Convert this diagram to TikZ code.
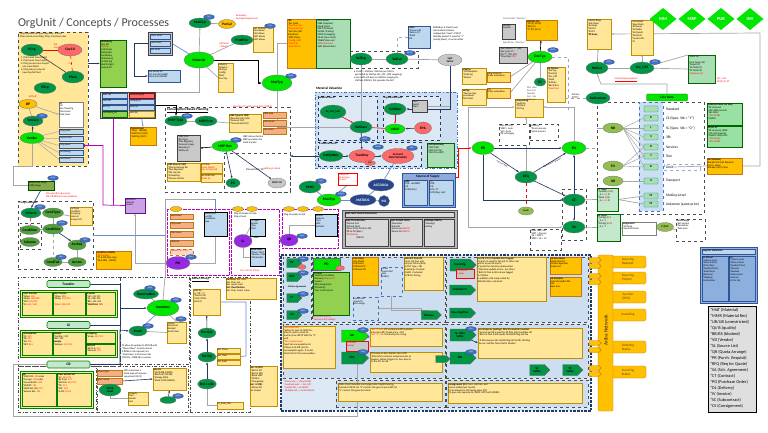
\documentclass[tikz,border=0pt]{standalone}
\usepackage{fontspec}
\setmainfont{Carlito}
\usetikzlibrary{shapes.geometric,shapes.symbols,arrows.meta}
\definecolor{yfill}{RGB}{255,230,153}
\definecolor{ybord}{RGB}{191,144,0}
\definecolor{ofill}{RGB}{255,192,0}
\definecolor{obord}{RGB}{197,120,17}
\definecolor{gfill}{RGB}{146,208,80}
\definecolor{mint}{RGB}{169,222,180}
\definecolor{bfill}{RGB}{189,215,238}
\definecolor{bbord}{RGB}{47,85,151}
\definecolor{lime}{RGB}{0,230,0}
\definecolor{dgreen}{RGB}{0,150,70}
\definecolor{mgreen}{RGB}{80,160,60}
\definecolor{olive}{RGB}{146,190,80}
\definecolor{pinkr}{RGB}{255,105,105}
\definecolor{tagb}{RGB}{68,114,196}
\definecolor{purp}{RGB}{150,40,230}
\definecolor{lpurp}{RGB}{204,160,230}
\definecolor{pblue}{RGB}{205,222,240}
\definecolor{navy}{RGB}{31,56,100}
\definecolor{navyb}{RGB}{40,70,140}
\definecolor{gfl}{RGB}{200,200,200}
\definecolor{salm}{RGB}{244,176,132}
\definecolor{magd}{RGB}{190,0,190}
\pgfdeclarelayer{panel}
\pgfdeclarelayer{conn}
\pgfsetlayers{panel,conn,main}
\newcommand\tf{\fontsize{2.5}{2.9}\selectfont}
\newcommand\tfm{\fontsize{3.4}{3.9}\selectfont}
\newcommand\tfe{\fontsize{3.6}{4}\selectfont\bfseries}
\newcommand\bx[7]{\node[#2,anchor=north west,minimum width={(#5-#3)*1pt},minimum height={(#6-#4)*1pt}] (#1) at (#3,#4) {};\node[tx,anchor=north west] (#1t) at (#3+0.6,#4+0.4) {#7};}
\newcommand\el[7]{\node[#2,minimum width=#5pt,minimum height=#6pt] (#1) at (#3,#4) {#7};}
\newcommand\tg[4]{\node[tagst] (#1) at (#2,#3) {#4};}
\begin{document}
\begin{tikzpicture}[x=1pt,y=-1pt,
 every node/.style={outer sep=0pt},
 tx/.style={font=\tf,inner sep=0pt,align=left,text=black},
 bxs/.style={rectangle,inner sep=0pt,line width=0.3pt},
 yb/.style={bxs,fill=yfill,draw=ybord},
 ob/.style={bxs,fill=ofill,draw=obord},
 gb/.style={bxs,fill=gfill,draw=green!40!black},
 mb/.style={bxs,fill=mint,draw=green!40!black},
 bb/.style={bxs,fill=bfill,draw=bbord},
 grb/.style={bxs,fill=gfl,draw=gray!50!black},
 sb/.style={bxs,fill=salm,draw=obord},
 wb/.style={bxs,fill=white,draw=gray},
 frm/.style={bxs,draw=gray!60!black,dash dot},
 dfr/.style={bxs,draw=gray!60!black,dashed},
 elb/.style={ellipse,inner sep=0pt,draw=black!55,line width=0.3pt,font=\tfe,align=center},
 ge/.style={elb,fill=dgreen},
 le/.style={elb,fill=lime},
 me/.style={elb,fill=mgreen},
 oe/.style={elb,fill=ofill},
 re/.style={elb,fill=pinkr},
 ole/.style={elb,fill=olive},
 pe/.style={elb,fill=purp},
 ne/.style={elb,fill=navyb,text=white},
 gre/.style={elb,fill=gfl,draw=gray},
 tagst/.style={ellipse,fill=tagb,draw=navy,line width=0.2pt,minimum width=11pt,minimum height=5pt,inner sep=0pt,font=\fontsize{1.8}{2}\selectfont,text=white},
 ln/.style={draw=gray!70,line width=0.7pt},
 nv/.style={draw=navy,line width=0.6pt,-{Latex[length=2.5pt,width=2pt]}},
 bl/.style={draw=tagb!80,line width=0.7pt},
 rd/.style={draw=red,line width=0.6pt},
 pl/.style={draw=magd,line width=0.7pt},
 dia/.style={diamond,fill=lime,inner sep=0pt,minimum width=27pt,minimum height=22pt,text=white,font=\fontsize{4.5}{5}\selectfont\bfseries},
 rowb/.style={bxs,fill=mint,draw=teal,rounded corners=0.5pt,minimum width=14pt,minimum height=6pt,font=\fontsize{3}{3}\selectfont\bfseries},
 lbl/.style={tx,anchor=west,font=\fontsize{3.6}{4}\selectfont},
 trb/.style={bxs,fill=mint!70,draw=green!50!black,rounded corners=1.5pt,minimum width=43pt,minimum height=7pt,font=\tfe,line width=0.6pt},
 abtn/.style={bxs,fill=ofill,draw=obord,rounded corners=1.5pt,minimum width=36pt,minimum height=12pt,font=\fontsize{3.4}{3.9}\selectfont,align=left,text=brown!50!black},
 sig/.style={signal,signal to=east,fill=ofill,draw=obord,inner sep=0pt,minimum width=12pt,minimum height=5pt},
 gsig/.style={signal,signal to=east,fill=dgreen,draw=black!60,inner sep=0pt,minimum width=15pt,minimum height=9pt,font=\fontsize{3}{3.4}\selectfont\bfseries,align=center},
 grd/.style={bxs,fill=yfill,draw=green!50!black,line width=0.8pt}
]
\useasboundingbox (0,0) rectangle (768,433);
\node[anchor=west,font=\fontsize{12}{12}\selectfont,text=black!70,inner sep=0pt] (title) at (18,23) {OrgUnit / Concepts / Processes};

% ================= PANELS =================
\begin{pgfonlayer}{panel}
\fill[white] (0,0) rectangle (768,433);
\bx{tlp}{yb,dashed,draw=gray!60!black,line width=0.5pt}{18}{32}{88}{166}{}
\bx{cbp}{dfr}{165}{107}{290}{192}{}
\bx{cbp2}{dfr}{224}{153}{290}{192}{}
\node[anchor=north west,inner sep=0pt,font=\tfm\bfseries] (mvpt) at (316,87) {Material Valuation};
\bx{mvp}{bxs,fill=pblue,draw=tagb,dash dot,line width=0.6pt}{315}{92}{457}{168}{}
\bx{vl}{dfr,draw=navy,fill=pblue!70}{318}{96}{377}{140}{\textbf{Valuation Level}}
\bx{ol}{dfr,draw=navy,fill=pblue!70}{383}{96}{440}{140}{\textbf{Organization level}}
\bx{trl}{dfr,draw=navy,fill=pblue!70}{318}{142}{421}{166}{\textbf{Transaction Level}}
\bx{vtfr}{dfr}{350}{51}{418}{68}{}
\bx{pcp}{dfr}{18}{201}{93}{269}{\textbf{Pricing Conditions}}
\bx{pcd}{dfr}{20}{223}{41}{249}{}
\bx{pirp}{bxs,draw=magd,densely dotted,line width=1pt}{167}{209}{229}{275}{}
\bx{slp}{bxs,draw=magd,densely dotted,line width=1pt}{231}{209}{279}{275}{}
\bx{qrp}{bxs,draw=magd,densely dotted,line width=1pt}{282}{209}{338}{248}{}
\bx{lifr}{dfr}{597}{102}{704}{214}{}
\bx{licol}{bb,dashed,fill=bfill!80,draw=tagb}{639}{102}{663}{211}{}
\bx{ctsa}{dfr}{562}{189}{586}{240}{}
\bx{fA}{frm}{18}{277}{120}{366}{}
\bx{fB}{frm}{120}{277}{189}{364}{}
\bx{fC}{frm}{97}{366}{188}{412}{}
\bx{fD}{frm}{190}{277}{250}{412}{}
\bx{fE}{frm}{18}{366}{96}{412}{}
\bx{bfr}{bxs,draw=navy,line width=1.2pt,dash pattern=on 2.5pt off 1.2pt,fill=pblue!70}{281}{255}{591}{411}{}
\bx{bf1}{dfr,fill=pblue}{283}{257}{311}{322}{}
\bx{bf2}{dfr,fill=pblue}{312}{257}{445}{322}{}
\bx{bf3}{dfr,fill=pblue}{446}{257}{588}{322}{}
\bx{bf4}{dfr,fill=pblue}{283}{324}{445}{378}{}
\bx{bf5}{dfr,fill=pblue}{446}{324}{588}{378}{}
\bx{bf6}{dfr,fill=pblue}{336}{380}{445}{407}{}
\bx{bf7}{dfr,fill=pblue}{446}{380}{588}{407}{}
\end{pgfonlayer}

% ================= TOP LEFT =================
\node[tx,anchor=north west] (tl1) at (20,33) {PGrp/Vendor/MM Sourcing rules: X-Plant\\PGrp can be cross-PGrg, PGrg - Purchase rules};
\el{pgrg}{ge}{32}{50}{22}{12}{PGrg}
\el{coycd}{re}{70}{50}{24}{12}{CoyCd}
\el{plant}{ge}{73}{77}{22}{12}{Plant}
\el{pgrp}{ge}{45}{88}{22}{11}{PGrp}
\el{bp}{oe}{28}{104}{18}{9}{BP}
\el{vengrp}{ge}{33}{121}{20}{10}{VenGrp}
\el{vendor}{le}{32}{138}{24}{11}{Vendor}
\tg{tvg}{42}{116}{LFA1}
\node[tx,text=red] (tlr1) at (57,46) {Std\\CoyCd};
\node[tx,text=red] (tlr2) at (70,64) {1:n};
\node[tx,text=red] (tlr3) at (33,97) {BP/SUP};
\node[tx,anchor=north west] (tl2) at (21,57) {1. Plant must have CoyCd\\2. Plant must have CoyCd\\3. PGrg can be cross-CoyCd\\\ \ \ (via cross-Plant)\\4. PGrg may or may not\\\ \ \ have CoyCd/Plant};
\bx{lb1}{wb}{59}{102}{83}{127}{BP\\VN\\Gen Tbwd Fig\\Plant Level\\PoM Level}
\bx{lb2}{bb}{59}{129}{83}{134}{Chng Level}
\bx{lb3}{bb}{59}{136}{83}{141}{CoyCd Level}
\bx{lb4}{bb}{59}{143}{83}{148}{PGrg Level}
\bx{lb5}{bb}{59}{150}{83}{155}{Purchasing}
\bx{lb6}{bb}{59}{157}{83}{162}{Plant Level}
\bx{vsr}{bxs,fill=olive!90!black,draw=green!30!black}{28}{181}{54}{190}{Vendor Sub-range\\(VSR) Usage}
\tg{tvsr}{53}{178}{LFM2}

\bx{purch}{gb}{100}{40}{126}{87}{\textbf{Purchasing}\\-Stor PO\\\textcolor{red}{-PurGrp}\\-Mat/Gross\\\ Plant(mat)\\-PurVal Key\\\ (tolerances)\\-Gr Ntk Tag\\-Batch Mgmt\\-Source list}
\bx{cl}{grb}{148}{32}{172}{55}{}
\bx{cl1}{bb}{150}{34}{170}{39}{Client Level}
\bx{cl2}{bb}{150}{41}{170}{46}{Plant Level}
\bx{cl3}{bb}{150}{48}{170}{53}{Doc Level}
\bx{docl}{bb}{148}{70}{180}{82}{Doc.Levels for\\-On 1st MV (MARC)\\-Plant-Def (MARB)}
\bx{vw}{grb,fill=gray!35}{100}{92}{155}{118}{}
\bx{vw1}{bb}{102}{93}{127}{98}{Basic (K)}
\bx{vw2}{bb}{102}{99}{127}{104}{Plant (K)}
\bx{vw3}{bb}{102}{105}{127}{110}{Stor (L)}
\bx{vw4}{gb}{102}{111}{127}{117}{Purchasing (E)}
\bx{vw5}{bxs,fill=pinkr,draw=red!60!black}{129}{93}{154}{98}{Accounting (B)}
\bx{vw6}{bb}{129}{99}{154}{104}{Costing (G)}
\bx{vw7}{bb}{129}{105}{154}{110}{Sales (V)}
\bx{vw8}{yb}{129}{111}{154}{117}{MRP (D)}
\bx{prt}{ob}{130}{127}{156}{145}{\textbf{Procurement}\\*Plant\ \ \ \ (BESKZ)\\*Add Proc (MVC)\\*Add Stg (MVC)}

\el{material}{le}{199}{60}{30}{16}{Material}
\el{matgrp}{ge}{200}{23}{22}{10}{MatGrp}
\tg{tmg}{209}{17}{T023}
\el{purcal}{oe}{227}{24}{17}{9}{PurCal}
\node[tx,text=red,anchor=west] (pcr) at (236,17) {Evaluation\\Average Requirement};
\el{prodh}{ge}{242}{40}{22}{10}{ProdHier}
\node[tx,text=red] (pdr) at (224,45) {All Plants\\/ Merch};
\bx{mgb}{yb}{253}{27}{273}{52}{Ext. MatGrp\\Mat allows\\Mat allows\\MAT allows\\MAT allows}
\tg{tmgb}{270}{26}{T134}
\bx{ind}{yb}{218}{63}{233}{92}{Industry\\\ Industry\\\ MatTyp\\\ Config\\\ Plant\\\ ProcTyp\\\ ...}
\el{mattyp}{le}{277}{83}{30}{16}{MatTyp}
\tg{tmt}{291}{76}{MTART}
\bx{mtb}{ob}{287}{19}{316}{68}{\textbf{*BP}\\*Ext. Field\\\textcolor{red}{*Prod Typ Grp}\\\textcolor{red}{*Procurem Typ}\\*Val Class (Val.\\\ Valuation)\\*MRP Views\\\textcolor{red}{*Config. MAT}\\\textcolor{red}{*Price Ctrl}\\\textcolor{red}{*Acct Cat Lvl}}
\bx{mtg}{mb}{316}{19}{350}{68}{*ROH (Raw)\\*HIBE (Supplies)\\*HALB (Semi)\\*FERT (Finished)\\*HAWA (Trading)\\*VERP (Packaging)\\*NLAG (Non-stock)\\*UNBW (Non-val)\\\textcolor{red}{*DIEN (Services)}\\*LEIH (Returnable)}

% ================= VALUATION =================
\el{valtyp}{ge}{361}{59}{22}{12}{ValTyp}
\el{valcat}{ge}{397}{59}{22}{12}{ValCat}
\tg{tvc}{410}{53}{BWTTY}
\el{splitv}{gre}{450}{60}{24}{12}{\fontsize{2.6}{3}\selectfont Split\\[-0.5pt]\fontsize{2.6}{3}\selectfont ValCat}
\bx{flds}{bb}{408}{26}{430}{48}{\textbf{Fields}\\*Procure (B)\\*Extern (F)\\*Stock\\\ Val.}
\node[tx,anchor=north west] (defcl) at (433,27) {Definition at Client Level\\(intransitive) ValArea\\configurable "level" of MAT\\Globally protect it must be "Y"\\(mostly plant), it can be either};
\node[tx,anchor=north west] (vtxt) at (354,71) {\textbullet\ 1 MAT: 1 ValClass: ValClass per MAT is\\\ \ permitted by MatTyp [AC\_CAT\_MAT mapping]\\\textbullet\ non-MAT will base on ValClass mapping to\\\ \ ValClass (OMSK), this provides the ACC};
\el{accat}{ge}{333}{112}{26}{14}{\fontsize{2.6}{3}\selectfont AC\_CAT\_MAT}
\el{valcls}{ge}{361}{127}{22}{12}{ValClass}
\tg{tvcl}{365}{139}{BKLAS}
\el{valar}{ge}{395}{109}{22}{12}{ValArea}
\bx{vag}{grb}{412}{100}{427}{112}{Plant\\CoyCd\\Plant}
\el{valar2}{le}{395}{129}{20}{10}{ValLvl}
\el{eml}{re}{423}{128}{17}{12}{EML}
\el{catsk}{ge}{331}{156}{24}{11}{CatSysKey}
\el{trk}{re}{362}{156}{26}{13}{Transkey}
\el{trk2}{re}{370}{163}{11}{5}{\fontsize{2}{2}\selectfont BSX}
\el{accd}{re}{398}{156}{32}{15}{\fontsize{3}{3.4}\selectfont Account\\[-1pt]\fontsize{3}{3.4}\selectfont Determination}
\tg{tacd}{412}{148}{OBYC}
\tg{ttk}{378}{147}{OMWB}
\bx{mvg}{mb}{427}{143}{454}{167}{\textbf{MM (inventory)}\\*MM (MB)\\*MM (MM IV)\\*MM (Fine BPP)}
\node[tx,text=red] (sis) at (272,169) {Settings in Stock};
\bx{rbx}{bxs,draw=red,line width=0.6pt,fill=white}{338}{173}{357}{185}{\textcolor{red}{ValuatnLvl}\\\textcolor{red}{Mvmt type}\\\textcolor{red}{GL Acct}}
\el{mvo}{ge}{310}{187}{22}{12}{MVO}
\tg{tmvo}{321}{181}{T156}
\el{mtyp2}{le}{329}{200}{24}{12}{MovTyp}
\tg{tmt2}{341}{194}{BWART}
\el{accdoc}{ne}{381}{185}{26}{12}{ACCDOCA}
\el{matdoc}{ne}{363}{200}{26}{11}{MATDOC}
\el{mlx}{ne}{384}{201}{11}{11}{ML}

\bx{sos}{bb,line width=0.8pt,fill=tagb!60}{402}{173}{455}{207}{}
\node[tx,font=\tfm\bfseries] (sost) at (428,176.5) {Source of Supply};
\bx{sos1}{bb}{404}{180}{427}{205}{\textbf{MRP}\\1.QR\ \ +SL(MRP)\\2.SL\\3.PIR(Main)}
\bx{sos2}{bb}{429}{180}{453}{205}{\textcolor{red}{\textbf{PO}}\\1.QR\\2.SL\\3.OA, CT\\4.PIR (Reg. Ind)}
\bx{ulc}{grb,fill=gray!55,draw=gray!70!black,line width=0.6pt}{342}{210}{457}{248}{}
\bx{ulct}{grb,fill=gray!30}{345}{212}{454}{217}{\textbf{User Level Control Parameters}}
\bx{ulc1}{grb,fill=gray!30}{345}{219}{388}{246}{\textbf{User PO Level (ME)}\\*Default Acct\\*Default Plant\\*Pernr PR to PO (Scrn PR)\\*PR to PO (Spec)\\\textcolor{red}{*PO Release}\\\ \ \ \ \ \ \ \ \ \ \ \ \ \ \ \ \ \ \ (ME23)}
\bx{ulc2}{grb,fill=gray!30}{390}{219}{422}{246}{\textbf{User Default (SU3)}\\*Parameter\\*Defaults\\*Access Lvl \textcolor{red}{(ME21)}\\*Param list \textcolor{red}{(ME51)}}
\bx{ulc3}{grb,fill=gray!30}{424}{219}{454}{246}{\textbf{Message (MESS)}\\*Message\\\ setting}

% ================= MRP =================
\node[tx,font=\tfm\bfseries,anchor=north west] (cbpt) at (167,108) {\underline{Consumption-Based Planning}};
\node[tx,text=red,anchor=north west] (cbpr) at (233,106) {Reorder pt / Safety Stock (Not: MRP II)};
\el{mrpt}{ge}{176}{121}{22}{10}{MRP Type}
\tg{tmrpt}{187}{116}{DISMM}
\el{mrpp}{ge}{206}{121}{22}{10}{MRP Proc}
\bx{mrpy}{yb}{229}{114}{261}{132}{\textbf{MRP Type for MRP}\\*Reorder Point (VB)\\*Forecast (VV)\\*Time-phased (R1)}
\bx{mra1}{sb}{263}{112}{286}{118}{MRP area}
\bx{mra2}{sb}{263}{120}{286}{126}{Plant Level}
\bx{mra3}{sb}{263}{128}{286}{134}{Stor Level}
\bx{mrg}{grb}{177}{135}{200}{161}{*MRP Proc\\*Sim Type\\*Plan Regularly\\*Forecast Usage\\*Reorder pt\\*Safety stk}
\el{mrpr}{le}{225}{146}{26}{11}{MRP Run}
\tg{tmrpr}{236}{140}{MD01}
\node[tx,anchor=north west] (mrpn) at (243,136) {MRP allows check \&\\MRP procedure for\\stock transfer};
\bx{mry1}{yb}{167}{163}{200}{181}{\textbf{MRP Run for MRP}\\*Check planning file\\*Plan Regularly\\*Net req calc\\*Scheduling\\*Procure details}
\bx{mry2}{yb}{201}{163}{222}{173}{Lot Size:\\\textcolor{red}{ex.lot (Static)}\\\textcolor{red}{Per. lot (Period)}}
\bx{mry3}{yb}{201}{174}{222}{182}{No order Ind.\\\textcolor{red}{Order pt ..}}
\el{pgx}{ge}{233}{183}{14}{9}{PG}
\el{mrpc}{gre}{277}{183}{18}{10}{\fontsize{2.5}{3}\selectfont MRP Cntl}
\node[tx] (pon) at (255,170) {Planned Ord / PO};

% ================= PRICING =================
\node[tx,text=red,anchor=west] (pcr1) at (46,195) {PO uses MM value price\\PIR, PB/RFQ/SA use conditions};
\el{pc1}{ge}{31}{213}{20}{10}{PrCond}
\tg{tpc1}{40}{207}{KONV}
\el{pc2}{me}{53}{213}{20}{10}{CondType}
\bx{pcy}{yb}{70}{207}{92}{225}{Cal Type\\Condition\\Grouping\\Interval\\Group (GT)}
\el{pc3}{me}{30}{230}{19}{9}{Condition}
\el{pc4}{me}{30}{242}{19}{9}{Scheme}
\el{pc5}{me}{53}{229}{20}{10}{Condition}
\tg{tpc5}{62}{223}{KALSM}
\el{pc6}{me}{77}{245}{18}{10}{AccSeq}
\tg{tpc6}{85}{240}{T682}
\el{pc7}{me}{53}{262}{18}{9}{CondTab}
\tg{tpc7}{61}{257}{T681}
\el{pc8}{me}{77}{262}{18}{9}{Access}
\bx{cvl}{ob}{96}{251}{131}{269}{\textbf{Condition Validity}\\\textcolor{red}{*PO is today}\\*CT \& PIR time step\\*SA \& RFQ - (SPRO)}
\bx{rmv}{bxs,fill=lpurp,draw=purp!60!black,line width=0.6pt}{125}{198}{145}{213}{Reference\\Material\\Vendor}

% ================= PIR / SL / QR =================
\el{pio1}{oe}{176}{209}{12}{5}{}
\bx{pb1}{sb}{170}{214}{193}{219}{Vend Level}
\bx{pb2}{sb}{170}{222}{193}{228}{Plng Level}
\bx{pb3}{sb}{170}{231}{193}{237}{Plant Level}
\bx{pb4}{sb}{170}{240}{193}{246}{Material}
\bx{pb5}{bxs,fill=salm!50,draw=obord,dashed}{170}{249}{193}{255}{\textcolor{red}{Vendor Cat. / PO}}
\el{pir}{pe}{178}{263}{24}{13}{PIR}
\tg{tpir}{191}{257}{EINA}
\bx{pirb}{bb,line width=0.8pt,draw=black}{204}{212}{227}{236}{Delivery Dt\\Last PO\\Conditions\\Type}
\el{slo1}{oe}{238}{209}{11}{5}{}
\el{slo2}{oe}{252}{209}{11}{5}{}
\node[tx,anchor=north west] (slt) at (234,213) {Plng at Vendor Lvl Sub\\Plng at level};
\el{sl}{pe}{243}{241}{18}{13}{SL}
\tg{tsl}{256}{235}{EORD}
\bx{slb1}{bb,line width=0.8pt,draw=black}{250}{219}{265}{236}{Fix Type\\Vendor\\PGrp\\Plant}
\bx{slb2}{bb,line width=0.8pt,draw=black}{250}{248}{265}{266}{\textbf{Block Level}\\*Plant / MAT\\*Vendor / MAT\\*Obj Vendor}
\node[tx,text=red] (slr) at (250,271) {Yes / SL Ctrl (Plant)};
\el{qro1}{oe}{289}{209}{11}{5}{}
\el{qro2}{oe}{303}{209}{11}{5}{}
\el{qro3}{oe}{318}{209}{11}{5}{}
\node[tx,anchor=north west] (qrt) at (284,214) {Plng at vendor-lvl QA};
\bx{qrb}{bb,line width=0.8pt,draw=black}{315}{214}{337}{236}{Vendor\\Material\\Plant\\MRP\\Rel.Date}
\el{qr}{pe}{289}{240}{18}{12}{QR}
\tg{tqr}{302}{236}{EQUK}

% ================= PROCESS =================
\el{pr}{le}{483}{148}{22}{13}{PR}
\el{po}{le}{574}{148}{24}{13}{PO}
\el{rfq}{ge}{526}{177}{22}{12}{RFQ}
\el{ct}{ge}{574}{200}{22}{12}{CT}
\el{sa}{ge}{574}{227}{22}{12}{SA}
\el{lmt}{ole}{526}{211}{15}{8}{\fontsize{2.5}{3}\selectfont Contr}
\bx{iuf}{yb}{515}{99}{543}{117}{\textbf{InfoUpdFlag}\\*Upd Info\\*GR Plant\\*GI Plng}
\bx{ap}{dfr,fill=white}{499}{124}{529}{145}{Auto PO (PR)\\*MRP = Auto\\*VD = Auto\\*PR ref Supply}
\bx{act}{dfr,fill=white}{530}{124}{558}{140}{(Activity)\\*Direct procure\\*Stock procure}
\bx{omr}{dfr,fill=white}{530}{229}{561}{250}{Order MRP Ind\\*MAT = Procure\\*NL = MRP 2\\*MRP = NL = 23}
\node[tx,rotate=-28,font=\fontsize{2.2}{2.5}\selectfont] (lcp) at (502,164) {Copy for RFQ};
\node[tx,rotate=25,font=\fontsize{2.2}{2.5}\selectfont] (lqs) at (552,163) {Quotation/PO Submit};

\el{doctyp}{le}{540}{57}{24}{12}{DocTyp}
\tg{tdt}{553}{50}{BSART}
\el{pcx}{ge}{540}{82}{12}{8}{PC}
\bx{mmdc}{ob}{526}{20}{557}{40}{\textbf{MM Doc Cat}\\*PO (F), PR (B)\\*RFQ (A)\\*CT (K), SA (L)}
\bx{prp}{yb}{547}{67}{565}{102}{\textbf{PR Pattern}\\*DocTyp\\*ItemCat\\*Acc\_CAT\\*Stock\\*Activity\\*Rel Status\\\textcolor{red}{*Fixed Vnd}}
\node[tx,anchor=north west,text=gray!60!black] (dtl) at (527,87) {Dist. plan\\Item Cat\\Number\\Acct. Ass\\Referenc};
\bx{cfg1}{ob,fill=ofill!60}{487}{72}{510}{82}{Mng Contract\\Order evaluation}
\bx{cfg2}{ob,fill=ofill!60}{487}{88}{510}{98}{Cnt\\Order evaluation}
\bx{mng}{yb}{462}{68}{486}{84}{\textbf{MngTyp}\\*Consumption\\*Ordering\\*Partner}
\bx{vtb}{yb}{462}{89}{486}{105}{\textbf{ValTyp}\\*Tax rule (tax.\\\ procedure)\\Plant tasks}
\bx{yps}{grb}{502}{24}{515}{39}{YPS Key\\Purpose}
\node[tx,text=gray!60!black,anchor=north west] (ypt) at (503,18) {Contract for "Purchas"};
\node[tx,text=gray!60!black,anchor=north west] (ypt2) at (503,42) {Specific for "Purchas"};
\bx{ypg}{grb}{499}{47}{527}{63}{*Doc Pattern "T" (PR)\\*Doc Level \textcolor{red}{PR}\\*PO "T" (PO, PO)\\*Time Step \textcolor{red}{(PO)}}
\el{itc}{ge}{597}{68}{22}{12}{ItmCat}
\tg{titc}{609}{62}{PSTYP}
\el{acc}{ge}{642}{68}{24}{12}{Acc\_CAT}
\tg{tacc}{655}{62}{KNTTP}
\el{refr}{ge}{598}{98}{24}{12}{Referencer}
\node[tx] (enh) at (576,96) {Enhanc.\\{}(PTYP)};
\bx{itb}{yb}{587}{19}{611}{49}{*NAChr Requ\\*AAC Requ\\*AA Reqs\\*GR Ctrl\\*IR Ctrl\\\textbf{*PR Requ}}
\bx{acb}{yb}{631}{20}{653}{55}{*Consumpt\\*Spec Stock\\*AA Invoic\\*AA Delivr\\*AA Goods\\*Partial IV\\*Control GR\\*CL}
\bx{acg}{mb}{688}{55}{715}{83}{*Asset (A)\\\\*Cost Center (K)\\*Project (P)\\*Sls Order (C)\\*PP Order (F)\\\textcolor{red}{*Unknown (U)}}
\node[tx,text=red,anchor=west] (acr) at (717,80) {(K) => PR,\\PR (K) (C) ET};
\node[tx,text=red] (cdt) at (626,80) {\underline{Control Determination}};

% diamonds
\node[dia] (dmm) at (663,19) {MM};
\node[dia] (dmrp) at (692,19) {MRP};
\node[dia] (dpur) at (721,19) {PUR};
\node[dia] (dinv) at (750,19) {INV};

% line items
\node[bxs,fill=lime,draw=green!40!black,rounded corners=1pt,minimum width=41pt,minimum height=7pt,font=\tfm\bfseries] (li) at (667,97.5) {Line Item};
\node[rowb] (r0) at (651,109) {};
\node[rowb] (r1) at (651,118) {K};
\node[rowb] (r2) at (651,128) {L};
\node[rowb] (r3) at (651,137) {S};
\node[rowb] (r4) at (651,147) {D};
\node[rowb] (r5) at (651,156) {T};
\node[rowb] (r6) at (651,167) {B};
\node[rowb] (r7) at (651,181) {U};
\node[rowb] (r8) at (651,196) {M};
\node[rowb] (r9) at (651,204) {M};
\node[lbl] (l0) at (666,109) {Standard};
\node[lbl] (l1) at (666,118) {CS (Spec. Stk = "Y")};
\node[lbl] (l2) at (666,128) {SC (Spec. Stk = "O")};
\node[lbl] (l3) at (666,137) {3PL};
\node[lbl] (l4) at (666,147) {Services};
\node[lbl] (l5) at (666,156) {Text};
\node[lbl] (l6) at (666,167) {Limit};
\node[lbl] (l7) at (666,181) {Transport};
\node[lbl] (l8) at (666,196) {MatGrp Level};
\node[lbl] (l9) at (666,204) {Unknown (same price)};
\node[bxs,draw=tagb!60,dashed,minimum width=36pt,minimum height=6pt] (lhl) at (682,167) {};
\el{nb}{ole}{613}{128}{20}{10}{NB}
\el{fo}{ole}{613}{166}{20}{10}{FO}
\el{ub}{ole}{613}{181}{20}{10}{UB}
\bx{ctt}{mb,fill=mint!70}{597}{188}{618}{211}{\textbf{CT Types}\\*Quantity (\textcolor{red}{MK})\\\ \_ K, L, \textcolor{red}{M}, D\\*Value (\textcolor{red}{WK})\\\ \_ K, \textcolor{red}{L, M}, D}
\bx{sat}{mb,fill=mint!70}{597}{214}{620}{241}{\textbf{SA Types}\\*Sch Agt (\textcolor{red}{LP})\\\ \_ K, L, T\\*Sch Agt (\textcolor{red}{LPA})\\\ \_ K, L, T}
\bx{asg}{wb}{622}{222}{656}{235}{\textbf{Assignment}\\*GR Rptg -\\*General Sched}
\el{clp}{ole}{665}{227}{17}{9}{\fontsize{2.6}{3}\selectfont Cl Prof}
\bx{rst}{dfr,fill=white}{676}{219}{705}{241}{\textbf{Rel Strategy}\\*Rel Version\\*Periodicity\\*Tolerance}
\bx{rg1}{mb,fill=mint!90!green}{707}{103}{742}{125}{\textbf{Standard items (no text)}\\*PR (manual)\\*LDR: SBG (search)\\*LBI: 0024\\\textcolor{red}{\ \ *0D, S0 ERI}\\*GA0D1}
\bx{rg2}{mb,fill=mint!90!green}{707}{126}{742}{147}{\textbf{SE (scr IF)}\\*PR (manual), 0000\\*LTP: SAG (search)\\*GA0D9: 0021+0D1\\\textcolor{red}{\ \ *SCA Sched}\\\textcolor{red}{\ \ *0D, S0 ERI}}
\bx{rg3}{ob}{707}{158}{742}{174}{\textbf{Ref (Blanket)}\\Blanket Ord (Ltd, Blanket)\\Limit = Value\\Blanket (MM), Pleet}

% supplier evaluation & legend
\bx{sev}{bb,line width=0.8pt,fill=tagb!55}{700}{247}{757}{303}{}
\bx{sevt}{bb}{702}{249}{755}{254}{\textbf{Supplier Evaluation}}
\bx{sev1}{bb,fill=bfill!60!tagb}{702}{256}{728}{301}{\textbf{EL: Actual}\\*Criteria Level\\*Main criteria\\\ (Price/Qty)\\*Quality (Price)\\*Subcriteria\\\ (Delivery)\\*Shipping\\\ Instructions}
\bx{sev2}{bb,fill=bfill!60!tagb}{729}{256}{755}{301}{\textbf{LIS}\\*Criteria Level\\*Main criteria\\*Quality (Price)\\*Services\\*Evaluate\\*Extend pass\\\ read run\\\ in this tab}
\node[bxs,fill=gray!25,draw=black,line width=0.8pt,minimum width=48pt,minimum height=106pt,anchor=north west] (leg) at (708,306) {};
\node[anchor=north west,font=\fontsize{4.3}{6.05}\selectfont,inner sep=0pt,align=left] (legt) at (710,308) {*MAT (Material)\\*MMR (Material Rec)\\*UR/UB (unrestricted)\\*QI/IS (quality)\\*BB/BS (blocked)\\*VD (Vendor)\\*SL (Source List)\\*QR (Quota Arrange)\\*PR (Purch. Requisit)\\*RFQ (Req for Quote)\\*SA (Sch. Agreement)\\*CT (Contract)\\*PO (Purchase Order)\\*DL (Delivery)\\*IV (Invoice)\\*SC (Subcontract)\\*CS (Consignment)};

% Ariba
\node[abtn] (ab1) at (628,262) {Sourcing\\Request};
\node[abtn] (ab2) at (628,278) {Sourcing\\Project};
\node[abtn] (ab3) at (628,297) {Auction\\(RFX)};
\node[abtn] (ab4) at (628,315) {Awarding};
\node[abtn] (ab5) at (628,347) {Ordering\\Status};
\node[abtn] (ab6) at (628,372) {Invoicing\\Status};
\node[bxs,fill=ofill,draw=obord,rounded corners=1pt,minimum width=15pt,minimum height=156pt] (ariba) at (605.5,333) {};
\node[rotate=90,font=\fontsize{5}{5}\selectfont\bfseries,text=brown!50!black,inner sep=0pt] (aribt) at (606,330) {Ariba Network};
\node[sig] (sg1) at (594,260) {};
\node[sig] (sg2) at (594,266) {};
\node[sig] (sg3) at (594,276) {};
\node[sig] (sg4) at (594,282) {};
\node[sig] (sg5) at (594,343) {};
\node[sig] (sg6) at (594,350) {};
\node[sig] (sg7) at (594,368) {};
\node[sig] (sg8) at (594,374) {};

% ================= BIG FRAME CONTENTS =================
\node[gsig] (bpr) at (292,263) {PR};
\el{bprr}{re}{302}{267}{8}{5}{}
\node[gsig] (brfq) at (292,277) {RFQ};
\node[tx,font=\fontsize{2.3}{2.6}\selectfont\bfseries] (boa) at (297,287) {Outline Agreement};
\node[gsig] (bct) at (292,298) {CT};
\node[gsig] (bsa) at (292,315) {SA};
\tg{tbpr}{303}{259}{EBAN}
\tg{tbrfq}{303}{273}{EKKO}
\tg{tbct}{303}{294}{EKKO}
\tg{tbsa}{303}{311}{EKKO}
\node[bxs,fill=lime,draw=black!60,minimum width=27pt,minimum height=12pt,font=\tfe] (bpo) at (326.5,264) {PO};
\el{bpor}{re}{340}{268}{9}{5}{}
\bx{bpoi}{gb}{313}{272}{349}{315}{\textbf{PO Item}\\*Material, Condition\\*Delivery \textcolor{red}{(Ship conf)}\\*Invoice\\*PAG Assignment\\*PO History\\*Text, Conf Control}
\node[tx,text=red,anchor=north west] (bpor2) at (313,316) {Early Rel/Confirm\\*Technical PO Settings};
\bx{bprc}{ob}{352}{257}{378}{285}{\textbf{Price Deter}\\1.Fix (fixed)\\2.PIR Cond\\3.PIR last PO\\4.Manual PO}
\bx{bau}{yb}{404}{257}{443}{290}{\textbf{Auto PO from GR}\\Cond. GR (Inv) and\\only for GR/Inv (ERS)\\1.PO/T type = NB\\2.AutoTyp: Created\\3.BAPI = Included\\4.PIR for Pricing}
\bx{bblu}{bxs,draw=tagb,dashed,fill=pblue}{381}{267}{402}{296}{Inv list\\Invoice Ref\\data\\(MIRO)}
\bx{bblu2}{bxs,draw=tagb,dashed,fill=pblue}{353}{297}{378}{320}{Invoice Ref\\Open PO\\Acct Assign.}
\node[gsig,minimum width=20pt] (brel) at (429,315) {Release};
\node[gsig,minimum width=26pt,minimum height=12pt] (biv) at (460,265) {Invoicing};
\bx{bivr}{bxs,fill=gfl,draw=red}{456}{269}{474}{278}{\textcolor{red}{Or Recycle}\\\textcolor{red}{In Appr}}
\node[gsig,minimum width=26pt,minimum height=10pt] (bod) at (460,290) {Ordered/IV};
\node[gsig,minimum width=26pt,minimum height=10pt] (bsp) at (460,313) {Sourcing Plan};
\bx{by1}{yb}{477}{257}{546}{301}{\textbf{For PR, PO, IV Flexible Item Tagged:}\\PO item to used for GR and IV, other rule\\will be as per GR and IV\\IV push from function ready-noted\\*Tolerance update at mm. (ex: flow)\\*Both IV Plan \& GR rule are tagged\\\ in POitem.\\In addition, ESS ready-noted for\\\ ERS (Vendor), only Ecalc}
\bx{bo1}{ob}{550}{257}{581}{274}{\textbf{SA Item Index}\\Single Item for\\Process Approval\\Inside List}
\bx{bo2}{ob}{550}{277}{581}{296}{\textbf{SA Analytics}\\Smart Analytics PM\\Std.\\New Ana.}
\bx{bsm}{yb}{283}{326}{335}{368}{\textcolor{red}{*For stock mat:}\\*before IV, post to GR/IR GL;\\\ after IV, post to stock GL\\\ and/or price diff (if MAP for "S"\\\ prd)\\\textcolor{red}{*For nonstock mat:}\\*post into consumption GL\\\ If there is IV diff, post to\\\ consumption again. If no GR,\\\ direct full IV into consumption.}
\node[tx,text=red,anchor=north west] (bsmr) at (284,381) {*Stock mat. -> Only Val.GR\\*nonStock mat. -> AA, CAT\\*nonVal GR -> no GR/IR\\*Multiple AA -> nonVal GR ref};
\node[gsig,fill=lime,minimum width=27pt,minimum height=12pt] (bgr) at (352,336) {GR};
\bx{bgrr}{bxs,fill=gfl,draw=red}{346}{341}{368}{351}{\textcolor{red}{Or Goods}\\\textcolor{red}{Receipt}}
\node[gsig,minimum width=27pt,minimum height=12pt] (biws) at (352,358) {IWS};
\tg{tbgr}{363}{330}{MKPF}
\tg{tbiws}{363}{352}{ESSR}
\bx{bs1}{yb}{370}{328}{442}{346}{\textcolor{red}{*For "S" ctrl}: PO vs GR price diff is posted\\\ into price diff. Goods price = Std.\\\textcolor{red}{*For "V" ctrl}: the Stock price is Avg.}
\bx{bs2}{yb}{370}{352}{442}{372}{PO's base on Serv Master (Serv GIP)\\*After SES is entered, acceptance has to\\\ happen, before triggers Gr. Serv Spec in\\\ to the PO, for GR.}
\node[gsig,minimum width=14pt,minimum height=7pt] (bsar) at (441,359) {};
\node[gsig,minimum width=26pt,minimum height=12pt] (bspl) at (460,335) {Sr. Plan\\Settle};
\node[gsig,minimum width=26pt,minimum height=12pt] (bses) at (460,358) {SES};
\tg{tbspl}{471}{329}{ESLH}
\tg{tbses}{471}{352}{ESSR}
\bx{by2}{yb}{478}{328}{582}{358}{\textbf{For Scopes or postings: SES/IVs auto ES/ Invoices}\\*Service Val GR is used for SP Plan, ESS mandates GR\\*Both IV Plan \& ESS needs GR Del/ID flag and Tax\\\\*IF ESS requires GR, Del/ID flag (def in PR), ESS flag\\\ be set; and Pay Term (def in Vendor)}
\node[gsig,minimum width=20pt,minimum height=11pt] (bsc1) at (537,370) {SC\\Settle};
\node[gsig,minimum width=20pt,minimum height=11pt] (bsc2) at (570,370) {SC\\Settle};
\bx{by3}{yb}{338}{383}{442}{401}{While (Cost) Receipts are charged into Freight clearing.\\Instead of GR/IR, for "S" control, this goes to price diff; for\\"V" control, this goes into stock.}
\bx{by4}{yb}{448}{383}{582}{403}{\textbf{Consignment (IG)}: Cons. mat liab. and\\can be settled (per CoyCd)\\(1) be allowed in PO having value (PO)\\(2) goes into separate GL (OBYC, GPP) with (DKRG)}

% ================= LOWER LEFT =================
\node[trb] (transfer) at (68.5,284) {Transfer};
\node[trb] (gi) at (68.5,325) {GI};
\node[trb] (gr) at (68.5,364.5) {GR};
\bx{tg0}{grd}{20}{290}{117}{317}{}
\bx{tg1}{yb,draw=green!50!black}{22}{292}{52}{315}{\textbf{Plant Transfer}\\*1Step: \textcolor{red}{301}\\*2Step: \textcolor{red}{303/305}\\*STO: \textcolor{red}{351/101}\\*GI: \textcolor{red}{641 / 643}}
\bx{tg2}{yb,draw=green!50!black}{53}{292}{85}{315}{\textbf{Stor Transfer}\\*1Step: 311\\*2Step: \textcolor{red}{313/315}\\\\\textcolor{red}{*Stock: 309/411}}
\bx{tg3}{yb,draw=green!50!black}{86}{292}{115}{315}{\textbf{Transfer}\\*UR-> QI: 321\\*QI-> BB: 349\\*BB-> UR: 343\\\textbf{*Mat2Mat: \textcolor{red}{309}}}
\bx{gg0}{grd}{20}{330}{117}{357}{}
\bx{gg1}{yb,draw=green!50!black}{22}{332}{52}{355}{\textbf{Consumption}\\*CC: \textcolor{red}{201}\\*PR: \textcolor{red}{221}\\*SO: \textcolor{red}{231}\\*NET: \textcolor{red}{261}}
\bx{gg2}{yb,draw=green!50!black}{53}{332}{85}{355}{\textbf{Sample}\\*Confirm: 333\\*Ret: 333\\\textbf{Sample}\\*Sample: \textcolor{red}{333/1/5}}
\bx{gg3}{yb,draw=green!50!black}{86}{332}{115}{343}{\textbf{Scrapping}\\*Scrap: \textcolor{red}{551/3/5}}
\bx{gg4}{yb,draw=green!50!black}{86}{344}{115}{355}{\textbf{Reversal}\\*Sh/LS 6: \textcolor{red}{451}\\*Manual: \textcolor{red}{122}}
\bx{rg0}{grd}{20}{371}{93}{408}{}
\bx{rgc1}{yb,draw=green!50!black}{22}{373}{56}{406}{\textbf{GR}\\*MIGO PO: \textcolor{red}{101} order\\*Consign: \textcolor{red}{101} order\\*Consol Batch: \textcolor{red}{103}\\*GR/RET: \textcolor{red}{124}\\*NSGR Ret (W): \textcolor{red}{107}\\*Subcon Ret: \textcolor{red}{105}}
\bx{rgc2}{yb,draw=green!50!black}{57}{373}{91}{406}{\textbf{Movt wo.Doc ref}\\*Ini: \textcolor{red}{561/3/5}\\*By Prod: \textcolor{red}{531}\\*Ak/Ortl: \textcolor{red}{521/3/5}\\*Tfr: \textcolor{red}{511}\\*Mfr: \textcolor{red}{501}\\*A-GR: \textcolor{red}{701/2}}
\el{resv}{ge}{146}{294}{22}{10}{Reservation}
\tg{tresv}{150}{288}{RESB}
\el{inv}{le}{163}{308}{32}{16}{Inventory}
\tg{tinv}{176}{300}{MARD}
\el{stk}{ge}{138}{331}{18}{10}{Stock}
\tg{tstk}{148}{326}{MSEG}
\bx{sty}{yb}{167}{322}{186}{343}{Unrest.\\Restricted\\Blocked\\Stock Movt}
\tg{tsty}{181}{319}{MKOL}
\node[tx,anchor=north west] (invn) at (122,345) {To allow GI updates to PR/MR with\\"Move Allow" to stock record\\If RESB is not required, set\\"Final Issue" in the resvn doc\\(FIX Qty = RESB Qty, reserve)};
\bx{mvt}{sb}{97}{370}{122}{376}{Mvmt Type}
\bx{sps}{sb}{97}{378}{122}{384}{Spec. Stock}
\node[tx,anchor=north west] (mvtn) at (124,370) {Whs view have a\\stock type will assume\\movement (SE11)};
\bx{stby}{yb}{153}{368}{186}{390}{\textbf{Bin/etc}\\*UR/IS/BB (MARD)\\*Batch/SP (MCHB)\\*Storage (HM)\\*Stock (MM) (MSKU)}
\el{stl}{ge}{110}{390}{22}{12}{\fontsize{3}{3.4}\selectfont Stock\\[-1pt]\fontsize{3}{3.4}\selectfont Level}
\bx{stly}{yb}{128}{392}{148}{405}{Property\\Plant\\Vendor\\Cust}
\el{stv}{ge}{168}{400}{16}{7}{}
\tg{tstv}{178}{396}{MCHB}
\node[tx,anchor=north west] (rls) at (192,278) {\underline{\textbf{Release Strategy}}};
\bx{rety}{yb}{193}{289}{220}{315}{Valid by\\\ (+: PR, \textcolor{red}{CT})\\*Prod.cl (IS)\\*Unit of Dim\\\ (Unit-C)}
\el{rg}{ge}{207}{333}{18}{10}{Rel.Grp}
\el{rst2}{ge}{207}{357}{18}{10}{Rel.Stg}
\el{rlc}{ge}{207}{384}{18}{10}{Rel.Code}
\bx{rb1}{yb}{217}{348}{240}{353}{Rel. Prerq}
\bx{rb2}{yb}{217}{354}{240}{359}{Rel. Class}
\bx{rb3}{yb}{217}{360}{240}{365}{Rel. Indic}
\bx{rb4}{yb}{217}{402}{243}{409}{M\_EINK\_FRG}
\bx{mrl}{yb}{226}{278}{276}{299}{\textbf{Rel Class}: Rel. class\\Rel: Char, val: ...\\Rel: revert rules\\\textbf{Rel: Classification}\\Rel: Char, revert, value}
\bx{rgi}{yb}{250}{366}{277}{406}{\textbf{Rel. GI (PO)}\\*Rel for PO\\*Rel for SPG\\*Block MRP\\*PO Bins\\*Changeable\\\textbf{Rel. GI (PR)}\\*Allows PO\\\ to Output}

% ================= CONNECTORS =================
\begin{pgfonlayer}{conn}
\draw[draw=black!75,line width=0.6pt] (pgrg) -- (plant);
\draw[rd,dashed] (coycd) -- (plant);
\draw[rd] (pgrg) -- (coycd);
\draw[nv] (vendor) -- (vengrp);
\draw[ln] (vengrp) -- (bp);
\draw[ln,-{Latex[length=2pt]}] (bp) -- (lb1.west);
\foreach \b in {lb2,lb3,lb4,lb5,lb6} \draw[ln,line width=0.5pt] (vendor) -- (\b.west);
\draw[ln] (vendor.south) |- (13,166) |- (vsr.west);
\draw[nv] (vsr.south) -- (pc1.north);
\draw[nv] (tlp.east |- purch.west) -- (purch.west);
\draw[bl] (material) -- (cl.east);
\draw[nv] (cl.west) -| (134,76) -- (docl.west);
\draw[ln,-{Latex[length=2pt]}] (material) -- (matgrp);
\draw[ln] (matgrp) -- (purcal);
\draw[ln] (material) -- (prodh);
\draw[ln] (prodh) -- (mgb.west);
\draw[ln] (material) -- (ind.west);
\draw[ln] (material.south) |- (vw.north east);
\draw[draw=black,line width=0.9pt,-{Latex[length=3pt]}] (material.east) -| (258,83) -- (mattyp.west);
\draw[ln] (mattyp) |- (mtb.west);
\draw[ln] (mattyp.south) |- (valcls.west);
\draw[bl,-{Latex[length=2pt]}] (vw8.south) -- (prt.north);
\draw[draw=black,line width=0.7pt,-{Latex[length=2.5pt]}] (vw.east) -| (mrpt.north);
\draw[pl,{Square[length=2pt]}-] (lb4.east) -| (103,205) -- (rmv.west);
\draw[pl] (113,118) -- (113,205);
\draw[ln,-{Latex[length=2.5pt]}] (pir.west) -| (rmv.south);
\draw[bl] (pcp.east) -| (165,199) -| (pirb.north);
\draw[ln] (165,277) -- (165,199) -- (213,199);
\draw[ln] (valtyp) -- (valcat);
\draw[ln] (valcat) -- (splitv);
\draw[ln,dashed] (valcat) |- (flds.west);
\draw[ln] (valtyp) -- (valcls);
\draw[ln] (splitv) |- (vag.east);
\draw[ln] (mtg.east) -- (vtfr.west);
\draw[rd,-{Latex[length=2pt]}] (accat) -- (valcls);
\draw[rd,-{Latex[length=2pt]}] (valar) -- (valar2);
\draw[nv] (eml) -- (valar2);
\draw[rd] (valar2) -- (valcls);
\draw[nv] (catsk) -- (trk);
\draw[nv] (trk) -- (accd);
\draw[nv] (valcls) -- (trk);
\draw[nv] (catsk.west) -- (290,156);
\draw[nv] (splitv.south) |- (valar.east);
\draw[bl] (mvo) -- (mtyp2);
\draw[bl] (mtyp2) -- (matdoc);
\draw[bl] (matdoc) -- (accdoc);
\draw[bl] (matdoc) -- (mlx);
\draw[bl] (accdoc) -- (accd);
\draw[bl] (mtyp2) -- (rbx.south);
\draw[ln] (mrpt) -- (mrpp);
\draw[ln] (mrpp) -- (mrpy.west);
\draw[draw=black,line width=0.6pt,-{Latex[length=2.5pt]}] (mrpr) -- (mrg.east);
\draw[nv] (mrpr) -- (pgx);
\draw[nv] (mrpr) -- (mrpc);
\draw[rd,dashed] (pc1) -- (pc3);
\draw[ln] (pc2) -- (pc5);
\draw[ln] (pc5) -- (pc3);
\draw[nv] (pc5) -- (pc6);
\draw[ln] (pc6) -- (pc8);
\draw[ln,dashed] (pc5) -- (pc7);
\draw[ln] (pc7) -- (pc8);
\draw[ln] (pc2) -- (pcy.west);
\draw[ln] (pir) -| (pirb.south);
\draw[ln] (sl) -- (slb1.west);
\draw[ln] (sl) |- (slb2.west);
\draw[ln] (qr) |- (qrb.west);
% process frame
\draw[ln,-{Latex[length=2.5pt]}] (sa.west) ++(-6,0) -| (468,107) -- (iuf.west |- 0,107);
\draw[ln,-{Latex[length=2.5pt]}] (468,227) -- (sa.west);
\draw[ln,-{Latex[length=2.5pt]}] (po.north) |- (iuf.east |- 0,107);
\draw[ln,-{Latex[length=2.5pt]}] (rfq.north) -- (rfq.north |- iuf.south);
\draw[rd,-{Latex[length=2.5pt]}] (sos.east |- 0,177) -| (458,148) -- (pr.west);
\draw[nv] (pr.south) |- (ct.west);
\draw[nv,line width=1pt] (pr) -- (po);
\draw[nv] (pr) -- (rfq);
\draw[nv] (rfq) -- (po);
\draw[nv] (rfq) -- (ct);
\draw[nv] (ct) -- (po);
\draw[nv] (ct) -- (sa);
\draw[rd,dashed] (rfq) -- (lmt);
\draw[ln,dashed] (po.east) -- (lifr.west |- po.east);
\draw[draw=black,line width=0.6pt,-{Latex[length=2.5pt]}] (doctyp) -- (mmdc);
\draw[ln] (doctyp) -- (pcx);
\draw[ln] (doctyp) -- (cfg1.east);
\draw[ln] (doctyp) -- (cfg2.east);
\draw[ln] (doctyp) -- (ypg.east);
\draw[ln,dashed] (doctyp.east) -| (568,110);
\draw[ln] (itc) -- (acc);
\draw[ln,-{Latex[length=2pt]}] (itc) -- (itb);
\draw[ln,-{Latex[length=2pt]}] (acc) -- (acb);
\draw[ln] (acc) -- (acg.west);
\draw[ln] (acc) -- (acg.north west);
\draw[ln,dashed] (prp.east |- refr) -- (refr);
\draw[ln,-{Latex[length=2.5pt]}] (li.north) |- (601,84) -- (itc.south);
\draw[ln,-{Latex[length=2.5pt]}] (rg3.east) -| (760,33) -- (itb.east);
\foreach \r in {r1,r2,r3,r4,r5,r6} \draw[ln,line width=0.5pt] (nb.east) -- (\r.west);
\draw[ln,line width=0.5pt] (fo.east) -- (r4.west);
\draw[ln,line width=0.5pt] (fo.east) -- (r5.west);
\draw[ln,line width=0.5pt] (fo.east) -- (r6.west);
\draw[ln] (ub) -- (r7);
\draw[ln] (ctt.east) -- (r8.west);
\draw[ln] (ctt.east) -- (r9.west);
\draw[ln] (ct) -- (ctt.west);
\draw[ln] (sa) -- (sat.west);
\draw[ln] (sat.east) -- (asg.west);
\draw[ln] (asg.east) -- (clp);
\draw[ln] (clp) -- (rst.west);
\draw[ln] (l6.east) -- (rg3.west);
\draw[ln] (lifr.west |- nb) -- (nb);
\draw[ln,-{Latex[length=2pt]}] (bblu2.east) -| (brel.west |- bblu2.east) -- (brel.west);
\draw[ln] (bblu.south) |- (brel.north);
\draw[ln] (gr.west) -| (13,416) -| (bgrr.south);
\draw[navy,line width=0.6pt] (transfer.east) -| (120,308);
\draw[navy,line width=0.6pt] (gi.east) -| (120,308);
\draw[nv] (120,308) -- (inv.west);
\draw[nv] (gr.east) -| (120,330) -- (stk.west);
\draw[ln] (resv) -- (inv);
\draw[bl] (stk) -- (inv);
\draw[ln] (stk) -- (sty.west);
\draw[ln] (inv) -- (sty.north);
\draw[ln] (stl) |- (stly.west);
\draw[nv] (sps.east) -- (stby.west);
\draw[nv] (stv) -- (stby.south);
\draw[ln] (inv.north) -- (165,277);
\draw[nv] (rlc) -- (rst2);
\draw[nv] (rst2) -- (rg);
\draw[nv] (rg) -- (rety);
\draw[ln] (rst2) -- (rb2.west);
\draw[ln] (rlc) |- (rb4.west);
\draw[bl] (rety.east) -| (246,356) -- (rb2.east);
\draw[nv] (bgr) -- (bs1.west);
\draw[nv] (bsar) -- (bses.west);
\draw[nv] (bspl) -- (by2.west);
\end{pgfonlayer}
\end{tikzpicture}
\end{document}
